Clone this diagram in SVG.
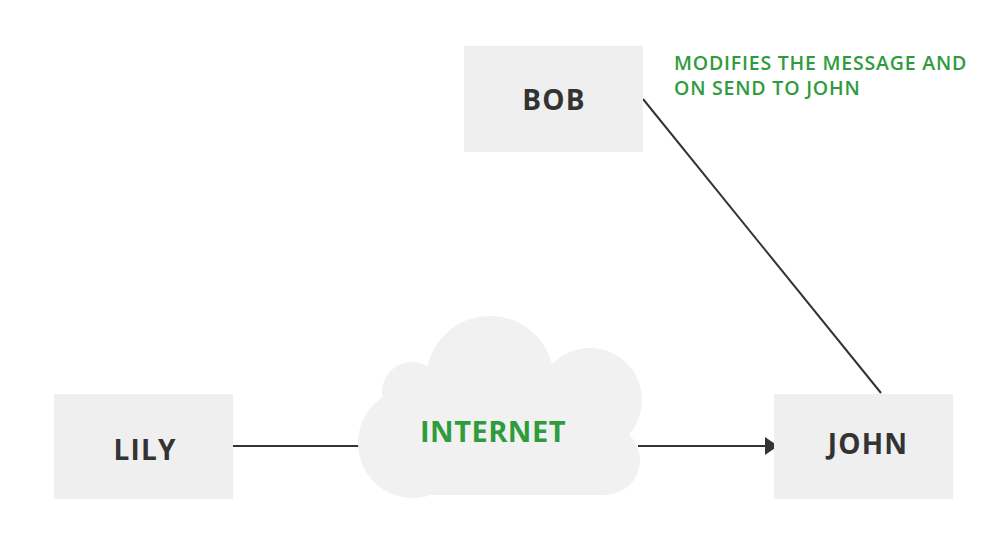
<svg xmlns="http://www.w3.org/2000/svg" width="1000" height="544" viewBox="0 0 1000 544">
<style>
.box{fill:#efefef}
.lbl{font-family:"Open Sans",sans-serif;font-weight:bold;font-size:28px;letter-spacing:1.2px;fill:#333;text-anchor:middle}
.g{font-family:"Open Sans",sans-serif;font-weight:600;fill:#2e9c3c}
.ln{stroke:#333;stroke-width:2;fill:none}
</style>
<defs><marker id="ah" markerWidth="13" markerHeight="18" refX="12" refY="9" orient="auto" markerUnits="userSpaceOnUse"><path d="M0,0 L13,9 L0,18 Z" fill="#333"/></marker></defs>
<rect width="1000" height="544" fill="#fff"/>
<g id="connectors">
<line class="ln" x1="233" y1="446" x2="360" y2="446"/>
<line class="ln" x1="638" y1="446" x2="777" y2="446" marker-end="url(#ah)"/>
<line class="ln" x1="643" y1="99" x2="881" y2="393"/>
</g>
<g id="lily"><rect class="box" x="54" y="394" width="179" height="105"/><text class="lbl" x="145" y="460">LILY</text></g>
<g id="bob"><rect class="box" x="464" y="46" width="179" height="106"/><text class="lbl" x="554" y="110">BOB</text></g>
<g id="john"><rect class="box" x="774" y="394" width="179" height="105" fill="#e8e8e8"/><text class="lbl" x="868" y="454">JOHN</text></g>
<g id="internet" fill="#f1f1f1">
<circle cx="490" cy="380" r="64"/>
<circle cx="412" cy="392" r="30"/>
<circle cx="590" cy="400" r="52"/>
<circle cx="413" cy="443" r="55"/>
<circle cx="605" cy="460" r="35"/>
<rect x="413" y="400" width="192" height="95"/>
<text class="g" x="493" y="442" font-size="29" text-anchor="middle" style="font-weight:bold;letter-spacing:0.5px">INTERNET</text>
</g>
<g id="note" style="letter-spacing:0.8px"><text class="g" x="674" y="70" font-size="19.5">MODIFIES THE MESSAGE AND</text><text class="g" x="674" y="95" font-size="19.5">ON SEND TO JOHN</text></g>
</svg>
